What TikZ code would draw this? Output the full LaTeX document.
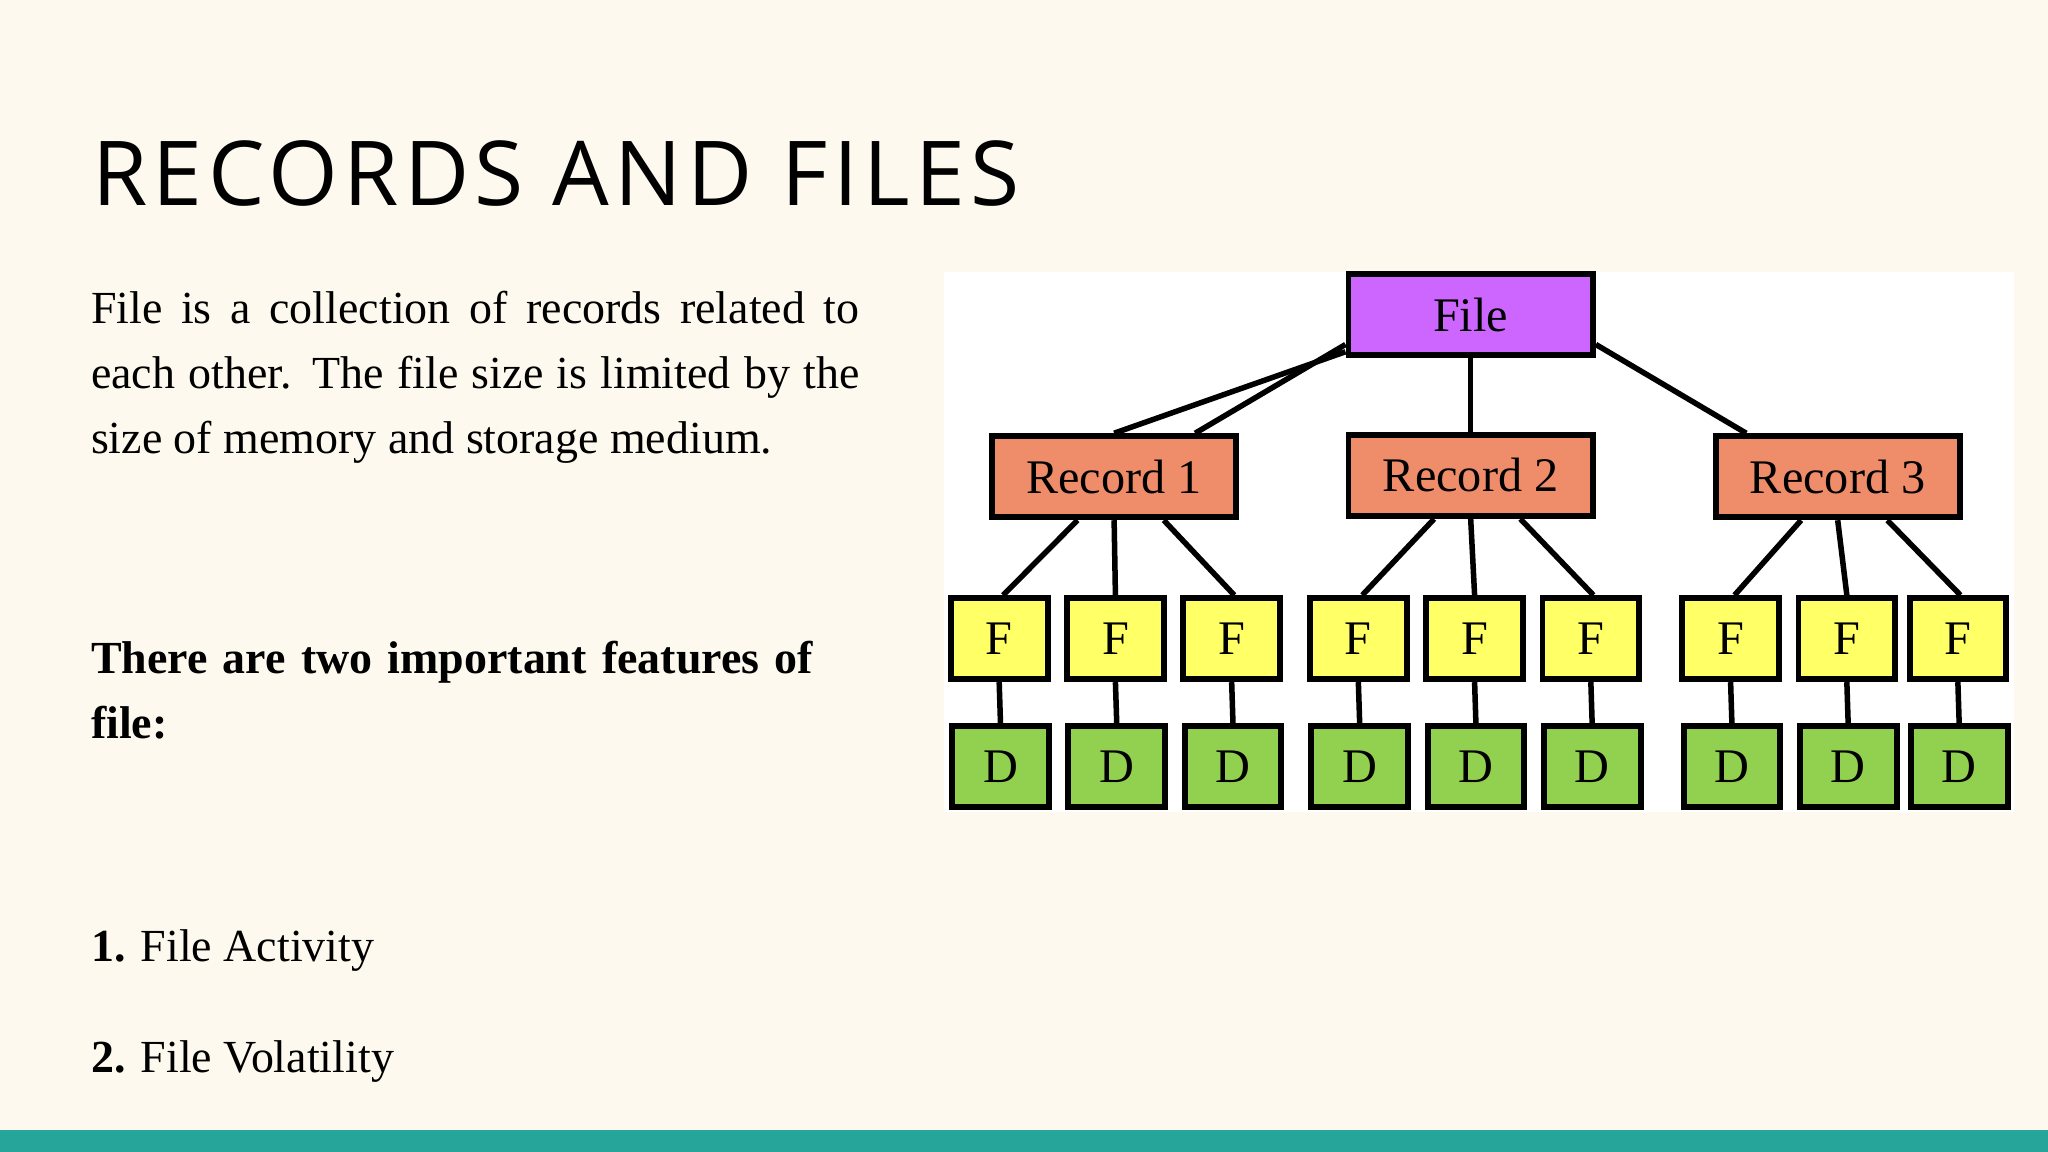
\documentclass[tikz,border=0pt]{standalone}
\usepackage{fontspec}
\setmainfont{Liberation Serif}
\newfontfamily\titlefont[LetterSpace=6]{Open Sans}
\usetikzlibrary{positioning}
\definecolor{cream}{HTML}{FDF9EE}
\definecolor{teal}{HTML}{26A69A}
\definecolor{filec}{HTML}{CC66FF}
\definecolor{recc}{HTML}{EF8C6A}
\definecolor{fc}{HTML}{FFFF66}
\definecolor{dc}{HTML}{92D050}
\tikzset{
  box/.style={draw=black,line width=1.3pt,minimum height=0.62cm,inner sep=0pt,font=\fontsize{10.5}{12}\selectfont},
  filebox/.style={box,fill=filec,minimum width=1.87cm},
  recbox/.style={box,fill=recc,minimum width=1.87cm},
  fbox/.style={box,fill=fc,minimum width=0.74cm},
  dbox/.style={box,fill=dc,minimum width=0.74cm},
  link/.style={line width=1.2pt}
}
\begin{document}
\begin{tikzpicture}[x=0.01cm,y=-0.01cm]
	\fill[cream] (0,0) rectangle (1568,882);
	\useasboundingbox (0,0) rectangle (1568,882);
	\fill[teal] (0,865) rectangle (1568,882);
	\fill[white] (723,208) rectangle (1542,622);
	% title and text
	\node[anchor=base west,inner sep=0pt,font=\titlefont\fontsize{19.5}{22}\selectfont] (title) at (70,157) {RECORDS AND FILES};
	\node[anchor=north west,inner sep=0pt,text width=5.88cm,align=justify,font=\fontsize{10}{14.2}\selectfont] (intro) at (69,222)
	{File is a collection of records related to each other. The file size is limited by the size of memory and storage medium.};
	\node[anchor=north west,inner sep=0pt,text width=5.9cm,align=left,font=\bfseries\fontsize{10}{14.2}\selectfont] (feat) at (69,490)
	{There are two important features of file:};
	\node[anchor=base west,inner sep=0pt,font=\fontsize{10}{12}\selectfont] (act) at (69,736) {\textbf{1.} File Activity};
	\node[anchor=base west,inner sep=0pt,font=\fontsize{10}{12}\selectfont] (vol) at (69,821) {\textbf{2.} File Volatility};
	% tree
	\node[filebox] (file) at (1126,241) {File};
	\node[recbox] (r1) at (853,365) {Record 1};
	\node[recbox] (r2) at (1126,364) {Record 2};
	\node[recbox] (r3) at (1407,365) {Record 3};
	\draw[link] (file.south west) ++(0,-5) -- (r1.north) ++(62,0);
	\draw[link] ([yshift=3pt]file.south west) -- ([xshift=0.62cm]r1.north);
	\draw[link] (file.south) -- (r2.north);
	\draw[link] ([yshift=3pt]file.south east) -- ([xshift=-0.7cm]r3.north);
	\foreach \r/\a/\b/\c [count=\i] in {r1/765/854/943, r2/1040/1129/1218, r3/1325/1414/1499}{
		\node[fbox] (f\i a) at (\a,489) {F};
		\node[fbox] (f\i b) at (\b,489) {F};
		\node[fbox] (f\i c) at (\c,489) {F};
		\node[dbox] (d\i a) at (\a+1,587) {D};
		\node[dbox] (d\i b) at (\b+1,587) {D};
		\node[dbox] (d\i c) at (\c+1,587) {D};
		\draw[link] ([xshift=-0.28cm]\r.south) -- ([xshift=0.03cm]f\i a.north);
		\draw[link] (\r.south) -- (f\i b.north);
		\draw[link] ([xshift=0.38cm]\r.south) -- ([xshift=0.02cm]f\i c.north);
		\foreach \k in {a,b,c}
			\draw[link] (f\i\k.south) -- (d\i\k.north);
	}
\end{tikzpicture}
\end{document}
